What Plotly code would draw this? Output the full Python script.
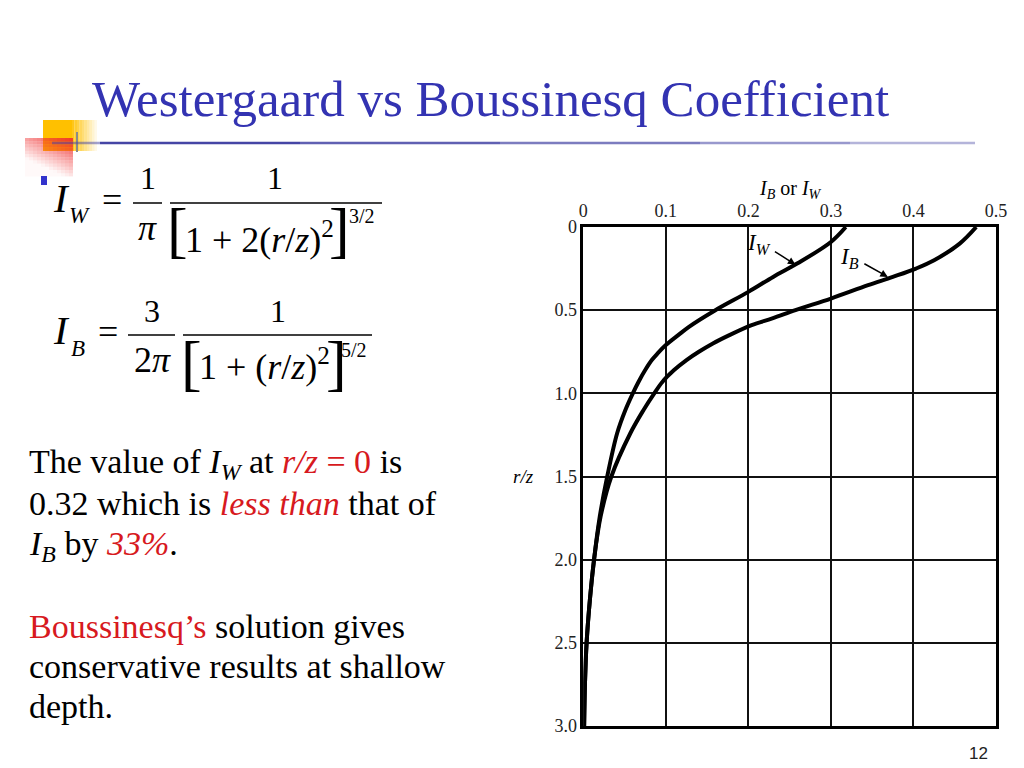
import plotly.graph_objects as go

# r/z depth ratio and influence values
iw_rz = [0.00, 0.09, 0.22, 0.30, 0.39, 0.50, 0.60, 0.65, 0.71, 0.76, 0.80,
         0.86, 0.93, 1.00, 1.10, 1.24, 1.50, 1.74, 2.00, 2.24, 2.50, 2.75, 3.00]
iw_val = [0.318, 0.300, 0.259, 0.230, 0.200, 0.160, 0.128, 0.115, 0.100, 0.090, 0.083,
          0.075, 0.067, 0.060, 0.051, 0.041, 0.029, 0.020, 0.013, 0.008, 0.004, 0.002, 0.001]

ib_rz = [0.00, 0.10, 0.20, 0.25, 0.30, 0.35, 0.43, 0.50, 0.55, 0.59, 0.65, 0.70,
         0.75, 0.80, 0.86, 0.93, 1.00, 1.10, 1.24, 1.50, 1.74, 2.00, 2.24, 2.50,
         2.75, 3.00]
ib_val = [0.476, 0.456, 0.425, 0.403, 0.375, 0.345, 0.300, 0.257, 0.229, 0.204, 0.177, 0.157,
          0.140, 0.125, 0.110, 0.096, 0.086, 0.073, 0.057, 0.034, 0.021, 0.013, 0.008, 0.004,
          0.002, 0.001]

x_ticks = [0, 0.1, 0.2, 0.3, 0.4, 0.5]
x_labels = ["0", "0.1", "0.2", "0.3", "0.4", "0.5"]
y_ticks = [0, 0.5, 1.0, 1.5, 2.0, 2.5, 3.0]
y_labels = ["0", "0.5", "1.0", "1.5", "2.0", "2.5", "3.0"]

SERIF = "Liberation Serif, Times New Roman, serif"
RED = "#d71920"
BLUE = "#3333b2"

# the page puts the figure 8px in from the corner, so the figure is made
# 8px smaller and every slide position is shifted by 8px
OFF = 8
W = 1024 - OFF
H = 768 - OFF


def px(x):
    return (x - OFF) / W


def py(y):
    return 1 - (y - OFF) / H


annotations = []
shapes = []


def text(s, x, y, size, color="black", xanchor="center", family=SERIF):
    annotations.append(dict(text=s, x=px(x), y=py(y), xref="paper", yref="paper",
                            xanchor=xanchor, yanchor="middle", showarrow=False,
                            font=dict(family=family, size=size, color=color)))


def hline(x0, x1, y, color="black", width=1.5, opacity=1):
    shapes.append(dict(type="line", xref="paper", yref="paper",
                       x0=px(x0), x1=px(x1), y0=py(y), y1=py(y),
                       line=dict(color=color, width=width), opacity=opacity))


def rect(x0, x1, y0, y1, color, opacity=1):
    shapes.append(dict(type="rect", xref="paper", yref="paper",
                       x0=px(x0), x1=px(x1), y0=py(y0), y1=py(y1),
                       fillcolor=color, line=dict(width=0), opacity=opacity, layer="below"))


fig = go.Figure()
fig.add_trace(go.Scatter(x=iw_val, y=iw_rz, mode="lines",
                         line=dict(color="black", width=4, shape="spline", smoothing=1)))
fig.add_trace(go.Scatter(x=ib_val, y=ib_rz, mode="lines",
                         line=dict(color="black", width=4, shape="spline", smoothing=1)))

# slide decoration (yellow and red fading squares, rule under the title)
rect(43, 72, 120, 151, "#ffc000")
for i in range(10):
    rect(72 + i * 2.5, 74.5 + i * 2.5, 120, 151, "#ffc000", 0.9 - i * 0.09)
for i in range(12):
    for j in range(12):
        op = max(0.03, 0.9 - 0.07 * j - 0.04 * (11 - i))
        rect(25 + i * 4, 29 + i * 4, 138 + j * 3.2, 141.2 + j * 3.2, "#f03030", op)
shapes.append(dict(type="line", xref="paper", yref="paper", x0=px(77), x1=px(77),
                   y0=py(132), y1=py(152), line=dict(color="#8a8a8a", width=2)))
segs = [(52, 100, 0.5), (100, 300, 1.0), (300, 500, 0.85), (500, 700, 0.7),
        (700, 850, 0.55), (850, 975, 0.4)]
for x0, x1, op in segs:
    hline(x0, x1, 143, color="#4545a5", width=2.5, opacity=op)
rect(41, 47, 176, 185, "#3333cc")

# title
text("Westergaard vs Boussinesq Coefficient", 490, 99, 51, BLUE)

# formula I_W
text("<i>I</i>", 61, 198, 41)
text("<i>W</i>", 79, 215, 23)
text("=", 112, 200, 36)
text("1", 148, 178, 32)
hline(133, 162, 203, width=1.5)
text("<i>π</i>", 147, 228, 36)
text("1", 275, 178, 32)
hline(170, 382, 203, width=1.5)
text("[", 177, 230, 62)
text("1 + 2(<i>r</i>/<i>z</i>)<sup>2</sup>", 183, 238, 36, xanchor="left")
text("]", 339, 230, 62)
text("3/2", 362, 216, 20)

# formula I_B
text("<i>I</i>", 61, 330, 41)
text("<i>B</i>", 78, 348, 23)
text("=", 108, 332, 36)
text("3", 152, 311, 32)
hline(128, 175, 335, width=1.5)
text("2<i>π</i>", 152, 360, 36)
text("1", 278, 311, 32)
hline(183, 372, 335, width=1.5)
text("[", 191, 363, 62)
text("1 + (<i>r</i>/<i>z</i>)<sup>2</sup>", 197, 364, 36, xanchor="left")
text("]", 336, 363, 62)
text("5/2", 354, 350, 20)

# explanation text
lines = [
    ("The value of <i>I</i><sub><i>W</i></sub> at <span style='color:%s'><i>r/z</i> = 0</span> is" % RED, 475),
    ("0.32 which is <span style='color:%s'><i>less than</i></span> that of" % RED, 515),
    ("<i>I</i><sub><i>B</i></sub> by <span style='color:%s'><i>33%%</i></span>." % RED, 557),
    ("<span style='color:%s'>Boussinesq’s</span> solution gives" % RED, 638),
    ("conservative results at shallow", 678),
    ("depth.", 718),
]
for s, base in lines:
    text(s, 27, base - 11.5, 34, xanchor="left")

# chart labels
text("<i>I</i><sub><i>B</i></sub> or <i>I</i><sub><i>W</i></sub>", 790, 189, 20)
text("<i>r/z</i>", 523, 476, 19)
text("12", 978, 753, 17, color="#222222", family="Liberation Sans")

# curve labels with arrows
text("<i>I</i><sub><i>W</i></sub>", 759, 244, 23)
text("<i>I</i><sub><i>B</i></sub>", 849, 258, 23)
annotations.append(dict(text="", x=0.257, y=0.226, xref="x", yref="y", ax=-22, ay=-14,
                        showarrow=True, arrowhead=2, arrowsize=1, arrowwidth=1.5, arrowcolor="black"))
annotations.append(dict(text="", x=0.369, y=0.30, xref="x", yref="y", ax=-25, ay=-14,
                        showarrow=True, arrowhead=2, arrowsize=1, arrowwidth=1.5, arrowcolor="black"))

axis_style = dict(showgrid=True, gridcolor="#111111", gridwidth=1.5, showline=True,
                  linecolor="black", linewidth=2.5, mirror=True, zeroline=False, ticks="",
                  automargin=False, tickfont=dict(family=SERIF, size=18, color="#222222"))

fig.update_layout(
    width=W, height=H, margin=dict(l=0, r=0, t=0, b=0, autoexpand=False),
    paper_bgcolor="white", plot_bgcolor="white", showlegend=False,
    font=dict(family=SERIF, color="black"),
    annotations=annotations, shapes=shapes,
    xaxis=dict(domain=[px(583.3), px(996)], range=[0, 0.5], side="top",
               tickvals=x_ticks, ticktext=x_labels, **axis_style),
    yaxis=dict(domain=[py(726), py(227)], range=[3, 0],
               tickvals=y_ticks, ticktext=y_labels, **axis_style),
)

fig.write_html("out.html")
